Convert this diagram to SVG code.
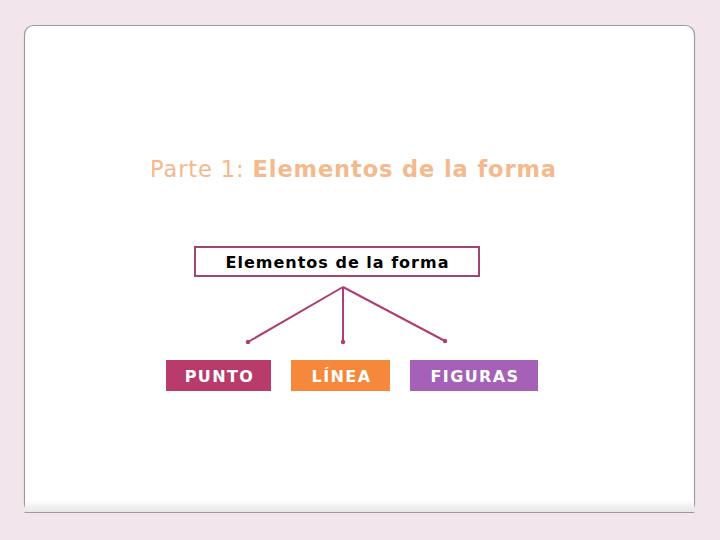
<svg xmlns="http://www.w3.org/2000/svg" width="720" height="540" viewBox="0 0 720 540">
<defs>
<linearGradient id="shade" x1="0" y1="0" x2="0" y2="1">
<stop offset="0" stop-color="#ffffff"/>
<stop offset="1" stop-color="#e6e6e6"/>
</linearGradient>
<marker id="dot" markerWidth="6" markerHeight="6" refX="3" refY="3" markerUnits="userSpaceOnUse">
<circle cx="3" cy="3" r="2.2" fill="#B03C72"/>
</marker>
<style>
.lbl{font-family:"DejaVu Sans",Verdana,sans-serif;font-size:16px;font-weight:bold;letter-spacing:1.4px;fill:#ffffff;text-anchor:middle}
.conn{stroke:#B03C72;stroke-width:2;fill:none;marker-end:url(#dot)}
</style>
</defs>
<rect width="720" height="540" fill="#F2E6EC"/>
<rect x="24.5" y="25.5" width="670" height="487" rx="9" fill="#ffffff" stroke="#9a9a9a" stroke-width="1.2"/>
<rect x="25" y="500" width="669" height="12" fill="url(#shade)"/>
<line x1="24.5" y1="512.5" x2="694.5" y2="512.5" stroke="#9a9a9a" stroke-width="1.2"/>
<g id="title">
<text x="150" y="177" font-family="DejaVu Sans,Verdana,sans-serif" font-size="22.5" letter-spacing="0.9" fill="#F4B98C">Parte 1: <tspan font-weight="bold">Elementos de la forma</tspan></text>
</g>
<g id="root">
<rect x="195" y="247" width="284" height="29" fill="#ffffff" stroke="#A0456E" stroke-width="2"/>
<text x="337.5" y="268" font-family="DejaVu Sans,Verdana,sans-serif" font-size="16" fill="#000000" text-anchor="middle" font-weight="bold" letter-spacing="1">Elementos de la forma</text>
</g>
<g id="connectors">
<path class="conn" d="M343 287 L248 342"/>
<path class="conn" d="M343 287 L343 342"/>
<path class="conn" d="M343 287 L445 341"/>
</g>
<g id="punto">
<rect x="166" y="360" width="105" height="31" fill="#B83B6B"/>
<text class="lbl" x="219.5" y="382">PUNTO</text>
</g>
<g id="linea">
<rect x="291" y="360" width="99" height="31" fill="#F5883A"/>
<text class="lbl" x="341.5" y="382">LÍNEA</text>
</g>
<g id="figuras">
<rect x="410" y="360" width="128" height="31" fill="#A561B8"/>
<text class="lbl" x="475" y="382">FIGURAS</text>
</g>
</svg>
